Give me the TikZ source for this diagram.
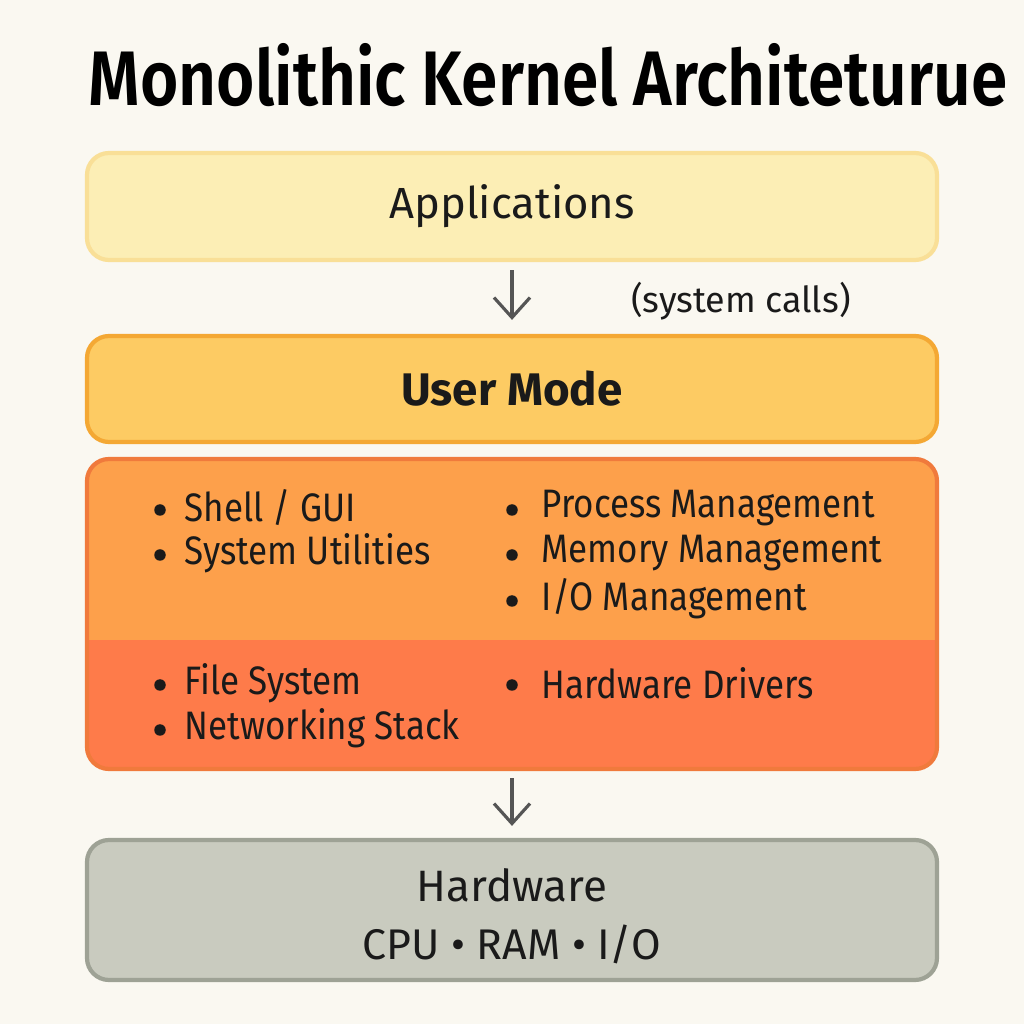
\documentclass[tikz,border=0pt]{standalone}
\usepackage{fontspec}
\setmainfont{Fira Sans}
\newfontfamily\titlefont[FakeStretch=0.85]{Fira Sans SemiBold}
\newfontfamily\bodyfont[FakeStretch=0.88]{Fira Sans}
\newfontfamily\labelfont{Fira Sans}
\usepackage{tikz}
\usetikzlibrary{arrows.meta,calc}

\definecolor{bgcol}{HTML}{FAF8F1}
\definecolor{appfill}{HTML}{FCEEB5}
\definecolor{appline}{HTML}{F9DF97}
\definecolor{userfill}{HTML}{FDCB63}
\definecolor{userline}{HTML}{F4A834}
\definecolor{kernfill}{HTML}{FDA04B}
\definecolor{kernlow}{HTML}{FE7B4A}
\definecolor{kernline}{HTML}{F07A3C}
\definecolor{hwfill}{HTML}{C9CBBF}
\definecolor{hwline}{HTML}{9EA295}
\definecolor{inkcol}{HTML}{1A1A1A}
\definecolor{arrowcol}{HTML}{555555}

\tikzset{
  layer/.style={draw, line width=1.2pt, rounded corners=0.22cm,
    minimum width=8.5cm, inner sep=0pt, text=inkcol, font=\labelfont\fontsize{12.4}{14}\selectfont},
  item/.style={anchor=west, inner sep=0pt, text=inkcol, font=\bodyfont\fontsize{11.3}{13}\selectfont},
  dot/.style={circle, fill=inkcol, inner sep=0pt, minimum size=0.115cm},
  flow/.style={-{Straight Barb[length=2mm,width=3.6mm]}, arrowcol, line width=0.9pt}
}

\begin{document}
\begin{tikzpicture}
\useasboundingbox (0,0) rectangle (10.24,10.24);
\fill[bgcol] (0,0) rectangle (10.24,10.24);
%title
\path (5.48,9.49) node[text=black, font=\titlefont\fontsize{22}{26}\selectfont] (title) {Monolithic Kernel Architeturue};
%applications
\path (5.12,8.175) node[layer, fill=appfill, draw=appline, minimum height=1.07cm] (app) {Applications};
%user mode
\path (5.12,6.35) node[layer, fill=userfill, draw=userline, minimum height=1.06cm,
	font=\labelfont\bfseries\fontsize{13}{15}\selectfont] (user) {User Mode};
\draw[flow, shorten <=0.08cm, shorten >=0.14cm] (app) -- (user);
\path (7.41,7.23) node[text=inkcol, font=\labelfont\fontsize{10.2}{12}\selectfont] (sys) {(system calls)};
%kernel
\path (5.12,4.10) node[layer, fill=kernfill, draw=kernline, minimum height=3.10cm,
	path picture={\fill[kernlow, sharp corners] (path picture bounding box.south west) rectangle ([yshift=1.29cm]path picture bounding box.south east);}] (kern) {};
\path (1.60,5.14) node[dot] (d1) {} (1.84,5.16) node[item] (i1) {Shell / GUI};
\path (1.60,4.69) node[dot] (d2) {} (1.84,4.71) node[item] (i2) {System Utilities};
\path (5.12,5.14) node[dot] (d3) {} (5.41,5.16) node[item] (i3) {Process Management};
\path (5.12,4.69) node[dot] (d4) {} (5.41,4.71) node[item] (i4) {Memory Management};
\path (5.12,4.23) node[dot] (d5) {} (5.41,4.25) node[item] (i5) {I/O Management};
\path (1.60,3.39) node[dot] (d6) {} (1.84,3.41) node[item] (i6) {File System};
\path (1.60,2.94) node[dot] (d7) {} (1.84,2.96) node[item] (i7) {Networking Stack};
\path (5.12,3.39) node[dot] (d8) {} (5.41,3.41) node[item] (i8) {Hardware Drivers};
%hardware
\path (5.12,1.14) node[layer, fill=hwfill, draw=hwline, minimum height=1.40cm] (hw) {};
\draw[flow, shorten <=0.07cm, shorten >=0.12cm] (kern) -- (hw);
\path (5.12,1.39) node[text=inkcol, font=\labelfont\fontsize{12.5}{14}\selectfont] (hwname) {Hardware};
\path (5.12,0.80) node[text=inkcol, font=\labelfont\fontsize{12.2}{14}\selectfont] (hwparts) {CPU \textbullet\ RAM \textbullet\ I/O};
\end{tikzpicture}
\end{document}
